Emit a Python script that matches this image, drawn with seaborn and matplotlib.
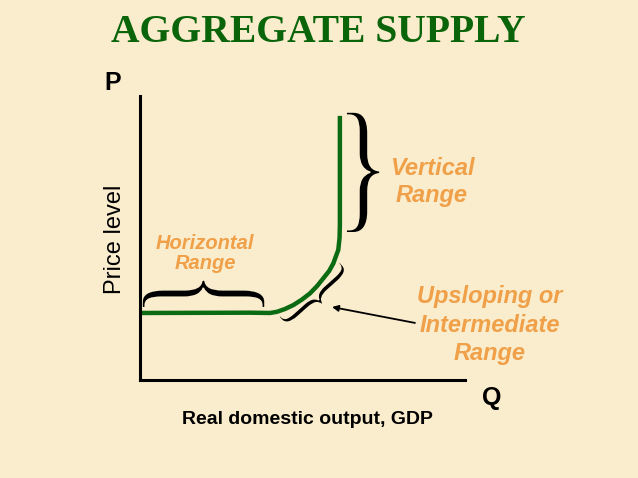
import numpy as np
import pandas as pd
import seaborn as sns
import matplotlib.pyplot as plt
from matplotlib.textpath import TextPath
from matplotlib.patches import PathPatch
from matplotlib.font_manager import FontProperties
from matplotlib.transforms import Affine2D, IdentityTransform

# aggregate supply curve (axis units 0-100)
q = [0, 33.8, 40.0, 42.1, 44.6, 47.2, 49.8, 52.3, 54.5, 56.4, 58.2, 59.5, 61.0, 61.4,
     61.5, 61.5]
p = [23.6, 23.7, 23.6, 24.0, 25.0, 26.4, 28.3, 30.5, 33.1, 35.8, 38.4, 41.1, 45.8, 50.0,
     54.6, 93.0]

# braces: (start, end, depth in px) - nib on the right of start->end
braces = [
    ((63.4, 51.8), (63.4, 94.4), 34),   # vertical range
    ((38.5, 25.4), (0.6, 25.4), 28),    # horizontal range
    ((42.6, 22.3), (61.5, 41.6), 20),   # intermediate range
]

bg = "#FAEDCD"
green = "#0B6B12"
orange = "#F0A048"

sns.set_theme(style="white", rc={"axes.facecolor": "none", "figure.facecolor": bg,
                                 "savefig.facecolor": bg})
plt.rcParams["font.family"] = ["Liberation Sans", "DejaVu Sans"]

fig = plt.figure(figsize=(6.38, 4.78), dpi=100)
ax = fig.add_axes([140/638, 98/478, 325/638, 284/478])
ax.set_xlim(0, 100)
ax.set_ylim(0, 100)
ax.set_xticks([])
ax.set_yticks([])
for s in ["top", "right"]:
    ax.spines[s].set_visible(False)
for s in ["left", "bottom"]:
    ax.spines[s].set_color("black")
    ax.spines[s].set_linewidth(2.2)

df = pd.DataFrame({"Q": q, "P": p})
sns.lineplot(data=df, x="Q", y="P", sort=False, estimator=None, color=green, lw=3.2, ax=ax)
ax.lines[-1].set_solid_capstyle("butt")
ax.lines[-1].set_solid_joinstyle("round")
ax.set_xlabel("")
ax.set_ylabel("")

# curly braces from the serif glyph, stretched to fit, thinned with a bg outline
glyph = TextPath((0, 0), "}", size=100, prop=FontProperties(family="Liberation Serif"))
ext = glyph.get_extents()
for start, end, depth in braces:
    x0, y0 = ax.transData.transform(start)
    x1, y1 = ax.transData.transform(end)
    length = np.hypot(x1 - x0, y1 - y0)
    ang = np.degrees(np.arctan2(y1 - y0, x1 - x0))
    tr = (Affine2D().translate(-ext.x0, -ext.y0)
          .scale(depth / ext.width, length / ext.height)
          .rotate_deg(ang - 90).translate(x0, y0))
    fig.add_artist(PathPatch(tr.transform_path(glyph), transform=IdentityTransform(),
                             facecolor="black", edgecolor=bg, linewidth=1.3, zorder=-1))

ax.annotate("", xy=(59.1, 25.7), xytext=(84.6, 20.1),
            arrowprops=dict(arrowstyle="-|>", color="black", lw=1.3,
                            mutation_scale=9, shrinkA=0, shrinkB=0),
            annotation_clip=False)

txt = dict(color=orange, weight="bold", style="italic", ha="center", va="center", clip_on=False)
ax.text(89.8, 69.7, "Vertical\nRange", size=17, **txt)
ax.text(20, 44.5, "Horizontal\nRange", size=14.5, linespacing=1.1, **txt)
ax.text(107.7, 19.3, "Upsloping or\nIntermediate\nRange", size=17, linespacing=1.3, **txt)

ax.text(-8.3, 104.6, "P", size=18, weight="bold", ha="center", va="center", color="black")
ax.text(-7.6, 49.5, "Price level", size=17, rotation=90, ha="center", va="center", color="black")
ax.text(108.3, -6.2, "Q", size=18, weight="bold", ha="center", va="center", color="black",
        clip_on=False)
ax.text(51.4, -13.8, "Real domestic output, GDP", size=14, weight="bold", ha="center",
        va="center", color="black")

fig.text(318/638, 1 - 33/478, "AGGREGATE SUPPLY", family=["Liberation Serif"], weight="bold",
         size=28.5, color="#0A640A", ha="center", va="center")

plt.savefig("out.png", dpi=100)
